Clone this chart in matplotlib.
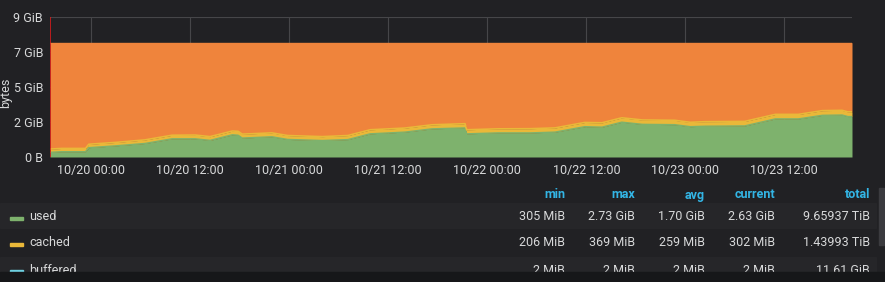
import pandas as pd
import matplotlib
matplotlib.use('Agg')
import matplotlib.pyplot as plt
import matplotlib.dates as mdates
from matplotlib.patches import Rectangle

plt.rcParams['font.family'] = ['Roboto', 'DejaVu Sans']

# hours after 10/20 00:00, values in GiB
hours = [-5.0, -3.6, -0.7, -0.3, 3.0, 6.5, 9.8, 12.6, 14.4, 17.1, 17.8, 18.3,
         21.9, 23.8, 28.0, 31.1, 33.8, 38.0, 41.3, 45.3, 45.5, 49.3, 53.2,
         56.2, 59.8, 61.9, 64.3, 66.8, 70.7, 72.6, 74.4, 79.2, 82.9, 85.7,
         88.6, 91.0, 91.7, 92.2]
used = [0.30, 0.34, 0.34, 0.60, 0.72, 0.87, 1.17, 1.17, 1.07, 1.43, 1.40, 1.22,
        1.30, 1.13, 1.06, 1.12, 1.49, 1.60, 1.81, 1.87, 1.49, 1.55, 1.55,
        1.60, 1.95, 1.92, 2.24, 2.10, 2.08, 1.95, 1.98, 2.00, 2.45, 2.45,
        2.68, 2.70, 2.60, 2.60]
cached = [0.21, 0.21, 0.21, 0.22, 0.22, 0.23, 0.23, 0.24, 0.24, 0.24, 0.25, 0.25,
          0.25, 0.25, 0.25, 0.26, 0.26, 0.26, 0.26, 0.27, 0.26, 0.26, 0.27,
          0.27, 0.27, 0.28, 0.28, 0.28, 0.28, 0.28, 0.29, 0.29, 0.29, 0.29,
          0.30, 0.30, 0.30, 0.30]
buffered = [0.002] * len(hours)
total_mem = 7.35

yticks = [0, 2.25, 4.5, 6.75, 9]
ytick_labels = ['0 B', '2 GiB', '5 GiB', '7 GiB', '9 GiB']

legend_names = ['used', 'cached', 'buffered']
legend_cols = ['min', 'max', 'avg', 'current', 'total']
legend_stats = [['305 MiB', '2.73 GiB', '1.70 GiB', '2.63 GiB', '9.65937 TiB'],
                ['206 MiB', '369 MiB', '259 MiB', '302 MiB', '1.43993 TiB'],
                ['2 MiB', '2 MiB', '2 MiB', '2 MiB', '11.61 GiB']]

colors = {'used': '#7eb26d', 'cached': '#eab839', 'buffered': '#6ed0e0', 'free': '#ef843c'}
bg = '#212124'
txt = '#d8d9da'

t0 = pd.Timestamp('2019-10-20 00:00')
times = t0 + pd.to_timedelta(hours, unit='h')
df = pd.DataFrame({'used': used, 'cached': cached, 'buffered': buffered}, index=times)
df['free'] = total_mem - df.used - df.cached - df.buffered

W, H = 885, 282
fig = plt.figure(figsize=(W / 100, H / 100), dpi=100, facecolor=bg)
ax = fig.add_axes([50 / W, 1 - 157 / H, 802 / W, 140 / H], facecolor=bg)

# stacked fills, lines only where they show in the reference
bottom = pd.Series(0.0, index=df.index)
tops = {}
for name in ['used', 'cached', 'buffered', 'free']:
    top = bottom + df[name]
    ax.fill_between(df.index, bottom, top, color=colors[name], lw=0, zorder=2)
    tops[name] = top
    bottom = top
ax.plot(df.index, tops['used'], color=colors['used'], lw=1, zorder=3)
ax.plot(df.index, tops['cached'], color=colors['cached'], lw=1.2, zorder=3)
ax.plot(df.index, tops['free'], color=colors['free'], lw=1, zorder=3)

ax.axvline(df.index[0], color='#d41c1c', lw=1.2, zorder=4)

ax.set_xlim(df.index[0], df.index[-1])
ax.set_ylim(0, 9)
ax.set_yticks(yticks)
ax.set_yticklabels(ytick_labels)
ax.xaxis.set_major_locator(mdates.HourLocator(byhour=[0, 12]))
ax.xaxis.set_major_formatter(mdates.DateFormatter('%m/%d %H:%M'))
ax.grid(True, color='#464649', lw=0.8)
ax.set_axisbelow(True)
ax.tick_params(colors=txt, labelsize=9, length=0, pad=5)
for s in ax.spines.values():
    s.set_visible(False)


def fy(y):
    return 1 - y / H


fig.text(6 / W, fy(93), 'bytes', color=txt, fontsize=9, rotation=90,
         ha='center', va='center')

# legend table
fig.patches.append(Rectangle((0, fy(228)), 876 / W, 25 / H, transform=fig.transFigure,
                             color='#262629', zorder=0))
fig.patches.append(Rectangle((0, fy(272)), 876 / W, 15 / H, transform=fig.transFigure,
                             color='#262629', zorder=0))
fig.patches.append(Rectangle((879 / W, fy(245)), 5 / W, 57 / H, transform=fig.transFigure,
                             color='#3b3b3f', zorder=1))

col_x = [565, 635, 705, 775, 870]
for cx, c in zip(col_x, legend_cols):
    fig.text(cx / W, fy(195), c, color='#33b5e5', fontsize=9, fontweight='bold',
             ha='right', va='center')

row_y = [217, 243, 270]
for ry, name, stats in zip(row_y, legend_names, legend_stats):
    fig.patches.append(Rectangle((10 / W, fy(ry + 3)), 13 / W, 3 / H,
                                 transform=fig.transFigure, color=colors[name], zorder=2))
    fig.text(29 / W, fy(ry), name, color=txt, fontsize=9, ha='left', va='center')
    for cx, s in zip(col_x, stats):
        fig.text(cx / W, fy(ry), s, color=txt, fontsize=9, ha='right', va='center')

# page background below the panel hides the cut-off row
fig.patches.append(Rectangle((0, 0), 1, fy(272), transform=fig.transFigure,
                             color='#161719', zorder=5))

fig.savefig('out.png', dpi=100, facecolor=bg)
